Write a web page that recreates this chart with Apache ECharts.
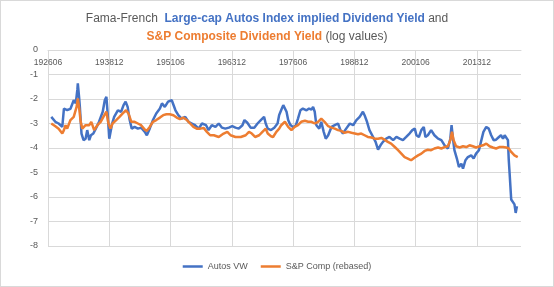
<!DOCTYPE html>
<html>
<head>
<meta charset="utf-8">
<script src="https://cdn.jsdelivr.net/npm/echarts@6/dist/echarts.min.js"></script>
<style>
  html, body { margin: 0; padding: 0; background: #fff; }
  #chart { width: 554px; height: 287px; box-sizing: border-box; border: 1px solid #d9d9d9; }
</style>
</head>
<body>
<div id="chart"></div>
<script>
// month offsets are counted from 192606
const firstYear = 1926;
const firstMonth = 6;
const monthCount = 1159;

const autosAt = [8, 18, 26, 35, 39, 47, 55, 63, 68, 72, 73, 76, 78, 82, 87, 92, 96, 101, 105, 111, 117, 125, 134, 139, 143, 146, 150, 153, 157, 162, 171, 179, 185, 190, 195, 200, 205, 212, 220, 228, 237, 242, 249, 257, 265, 274, 279, 286, 294, 303, 307, 312, 319, 327, 336, 344, 352, 360, 369, 377, 381, 387, 393, 401, 410, 418, 426, 434, 443, 451, 459, 467, 476, 481, 488, 496, 505, 513, 521, 529, 533, 538, 546, 554, 562, 566, 571, 576, 580, 584, 588, 593, 600, 607, 612, 618, 624, 633, 639, 645, 649, 653, 657, 664, 669, 675, 680, 686, 694, 702, 710, 716, 722, 730, 739, 747, 755, 763, 771, 775, 781, 787, 796, 802, 808, 814, 820, 828, 836, 845, 853, 861, 869, 877, 885, 892, 898, 902, 908, 914, 920, 924, 930, 938, 946, 955, 963, 971, 979, 985, 988, 991, 995, 1001, 1006, 1012, 1016, 1022, 1028, 1036, 1042, 1048, 1055, 1061, 1066, 1073, 1079, 1085, 1091, 1097, 1104, 1109, 1114, 1118, 1122, 1126, 1128, 1130, 1134, 1138, 1142, 1145, 1148];
const autosVW = [-2.73, -2.93, -3.00, -3.14, -2.39, -2.45, -2.40, -2.05, -2.18, -1.60, -1.36, -1.90, -2.32, -3.41, -3.68, -3.62, -3.27, -3.68, -3.48, -3.41, -3.21, -2.93, -2.52, -2.05, -1.91, -2.59, -3.62, -3.55, -3.00, -2.73, -2.46, -2.52, -2.25, -2.11, -2.32, -2.86, -3.21, -3.14, -3.21, -3.17, -3.34, -3.48, -3.21, -2.86, -2.59, -2.39, -2.18, -2.32, -2.11, -2.05, -2.11, -2.46, -2.66, -2.80, -2.73, -2.93, -3.00, -3.07, -3.21, -3.00, -2.93, -3.07, -3.27, -3.07, -3.14, -3.00, -3.17, -3.21, -3.17, -3.11, -3.17, -3.21, -3.07, -2.86, -2.97, -3.17, -3.17, -3.00, -2.86, -2.73, -3.00, -3.21, -3.27, -3.17, -3.00, -2.65, -2.45, -2.25, -2.18, -2.52, -2.86, -3.05, -3.15, -3.07, -2.80, -2.46, -2.39, -2.46, -2.39, -2.43, -2.32, -2.52, -3.07, -3.21, -2.93, -3.34, -3.62, -3.48, -3.14, -3.07, -3.00, -3.27, -3.41, -3.21, -3.00, -3.07, -2.86, -2.73, -2.52, -2.66, -2.93, -3.27, -3.55, -3.75, -4.07, -3.89, -3.75, -3.62, -3.55, -3.68, -3.55, -3.62, -3.68, -3.55, -3.41, -3.27, -3.21, -3.48, -3.55, -3.27, -3.14, -3.55, -3.48, -3.27, -3.48, -3.62, -3.68, -3.89, -4.02, -3.62, -3.07, -3.55, -4.09, -4.43, -4.77, -4.64, -4.84, -4.50, -4.37, -4.30, -4.43, -4.23, -4.09, -3.68, -3.34, -3.14, -3.21, -3.48, -3.68, -3.66, -3.55, -3.48, -3.62, -3.48, -3.55, -3.68, -4.48, -5.00, -6.10, -6.17, -6.30, -6.65, -6.38];

const spAt = [8, 18, 26, 35, 39, 43, 47, 55, 63, 70, 73, 77, 80, 84, 92, 101, 106, 113, 121, 129, 138, 143, 148, 153, 158, 167, 175, 183, 191, 197, 204, 212, 220, 228, 237, 242, 249, 257, 265, 274, 282, 290, 298, 307, 315, 323, 331, 340, 348, 356, 364, 373, 381, 389, 397, 406, 418, 430, 439, 447, 459, 472, 484, 492, 499, 507, 517, 525, 533, 538, 546, 551, 559, 566, 571, 580, 588, 596, 604, 612, 620, 629, 637, 645, 653, 661, 669, 677, 686, 694, 702, 710, 718, 726, 735, 743, 751, 759, 767, 775, 783, 792, 800, 808, 816, 824, 832, 840, 849, 857, 865, 873, 881, 889, 898, 906, 914, 922, 930, 938, 946, 955, 963, 971, 979, 985, 989, 993, 999, 1008, 1016, 1024, 1032, 1040, 1048, 1057, 1065, 1073, 1081, 1089, 1097, 1105, 1114, 1122, 1128, 1134, 1142, 1150];
const spComp = [-3.00, -3.11, -3.21, -3.41, -3.27, -3.07, -3.21, -2.86, -2.73, -2.32, -1.98, -2.46, -2.93, -3.21, -3.07, -3.07, -2.93, -3.27, -3.07, -2.93, -2.66, -2.52, -3.00, -3.21, -3.00, -2.86, -2.73, -2.59, -2.46, -2.59, -2.93, -2.93, -3.00, -3.07, -3.25, -3.30, -3.14, -2.93, -2.86, -2.76, -2.66, -2.62, -2.62, -2.66, -2.76, -2.82, -2.76, -2.86, -3.00, -3.14, -3.21, -3.21, -3.18, -3.34, -3.48, -3.48, -3.55, -3.41, -3.34, -3.48, -3.55, -3.55, -3.48, -3.34, -3.41, -3.55, -3.48, -3.34, -3.21, -3.41, -3.52, -3.55, -3.34, -3.21, -3.07, -2.93, -3.14, -3.27, -3.14, -3.07, -2.93, -2.89, -2.93, -2.93, -3.00, -2.93, -2.80, -2.93, -3.11, -3.17, -3.21, -3.27, -3.30, -3.38, -3.34, -3.38, -3.41, -3.44, -3.41, -3.48, -3.55, -3.57, -3.62, -3.62, -3.59, -3.66, -3.75, -3.82, -3.96, -4.09, -4.23, -4.37, -4.43, -4.50, -4.39, -4.30, -4.23, -4.12, -4.07, -4.09, -4.02, -3.98, -4.02, -3.96, -3.93, -3.68, -3.34, -3.68, -3.93, -3.98, -3.93, -3.96, -3.89, -3.93, -3.98, -3.93, -3.89, -3.82, -3.93, -3.98, -4.02, -3.96, -3.96, -3.98, -4.02, -4.16, -4.30, -4.37];

const months = [];
for (let i = 0; i < monthCount; i++) {
  const t = firstYear * 12 + firstMonth - 1 + i;
  const y = Math.floor(t / 12);
  const m = t % 12 + 1;
  months.push(y + (m < 10 ? '0' : '') + m);
}

const zip = (at, vals) => at.map((a, i) => [a, vals[i]]);

const gray = '#595959';
const gridColor = '#d9d9d9';
const font = '"Liberation Sans", Arial, sans-serif';

const myChart = echarts.init(document.getElementById('chart'));
myChart.setOption({
  animation: false,
  textStyle: { fontFamily: font },
  title: {
    left: 261,
    textAlign: 'center',
    top: 4,
    text: '{g|Fama-French  }{b|Large-cap Autos Index implied Dividend Yield}{g| and}\n{o|S&P Composite Dividend Yield}{g| (log values)}',
    textStyle: {
      lineHeight: 18,
      fontWeight: 'normal',
      rich: {
        g: { color: gray, fontSize: 12, fontWeight: 'normal', fontFamily: font, lineHeight: 18 },
        b: { color: '#4472C4', fontSize: 12, fontWeight: 'bold', fontFamily: font, lineHeight: 18 },
        o: { color: '#ED7D31', fontSize: 12, fontWeight: 'bold', fontFamily: font, lineHeight: 18 }
      }
    }
  },
  grid: {
    left: 47,
    right: 32,
    top: 49,
    bottom: 40
  },
  legend: {
    bottom: 10,
    left: 'center',
    icon: 'rect',
    itemWidth: 20,
    itemHeight: 2.5,
    itemGap: 13,
    textStyle: { color: gray, fontSize: 9, fontFamily: font },
    data: ['Autos VW', 'S&P Comp (rebased)']
  },
  xAxis: {
    type: 'category',
    position: 'top',
    data: months,
    boundaryGap: false,
    axisLine: { show: true, lineStyle: { color: gridColor, width: 1 } },
    axisTick: { show: false },
    axisLabel: {
      inside: true,
      interval: 149,
      margin: 8,
      color: gray,
      fontSize: 8.5,
      fontFamily: font
    },
    splitLine: {
      show: true,
      interval: 149,
      lineStyle: { color: gridColor, width: 1 }
    }
  },
  yAxis: {
    type: 'value',
    min: -8,
    max: 0,
    interval: 1,
    axisLine: { show: false },
    axisTick: { show: false },
    axisLabel: { color: gray, fontSize: 9, margin: 10, fontFamily: font },
    splitLine: { lineStyle: { color: gridColor, width: 1 } }
  },
  series: [
    {
      name: 'Autos VW',
      type: 'line',
      showSymbol: false,
      symbol: 'none',
      itemStyle: { color: '#4472C4' },
      lineStyle: { width: 2.5, color: '#4472C4' },
      data: zip(autosAt, autosVW)
    },
    {
      name: 'S&P Comp (rebased)',
      type: 'line',
      showSymbol: false,
      symbol: 'none',
      itemStyle: { color: '#ED7D31' },
      lineStyle: { width: 2.5, color: '#ED7D31' },
      data: zip(spAt, spComp)
    }
  ]
});
</script>
</body>
</html>
